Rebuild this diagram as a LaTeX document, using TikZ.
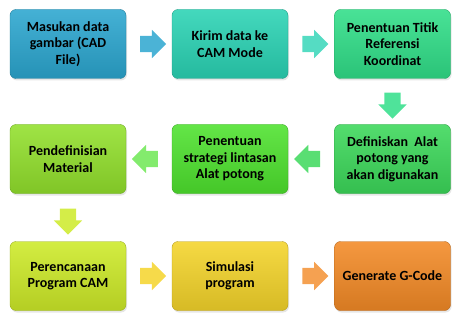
\documentclass[tikz,border=0pt]{standalone}
\usepackage{fontspec}
\setmainfont{Carlito}
\usetikzlibrary{shapes.arrows,shadows,calc}
\definecolor{cBlue}{HTML}{2BA6CF}
\definecolor{cTeal}{HTML}{2AD3B4}
\definecolor{cMint}{HTML}{30DE88}
\definecolor{cGreen}{HTML}{3CD85A}
\definecolor{cLeaf}{HTML}{4EE22E}
\definecolor{cLime}{HTML}{92E02C}
\definecolor{cPear}{HTML}{CDEA28}
\definecolor{cGold}{HTML}{F4D42A}
\definecolor{cOrange}{HTML}{F38A26}
\begin{document}
\begin{tikzpicture}[x=1pt,y=-1pt,
box/.style={rounded corners=6pt,minimum width=116pt,minimum height=69pt,align=center,
  font=\bfseries\fontsize{14}{16.5}\selectfont,draw=#1!75!black,
  top color=#1!88!white,bottom color=#1!88!black,
  drop shadow={opacity=0.2,shadow xshift=1pt,shadow yshift=-2pt}},
arr/.style={single arrow,single arrow head extend=6pt,single arrow tip angle=90,
  inner xsep=0pt,inner ysep=8pt,minimum height=26pt,fill=#1,draw=none}]
\useasboundingbox (0,0) rectangle (461,321);
% row 1
\node[box=cBlue] (b1) at (68,44) {Masukan data\\gambar (CAD\\File)};
\node[box=cTeal] (b2) at (230,44) {Kirim data ke\\CAM Mode};
\node[box=cMint] (b3) at (392.5,44) {Penentuan Titik\\Referensi\\Koordinat};
% row 2
\node[box=cGreen] (b4) at (392.5,159) {Definiskan\ \ Alat\\potong yang\\akan digunakan};
\node[box=cLeaf] (b5) at (230,159) {Penentuan\\strategi lintasan\\Alat potong};
\node[box=cLime] (b6) at (68,159) {Pendefinisian\\Material};
% row 3
\node[box=cPear] (b7) at (68,276) {Perencanaan\\Program CAM};
\node[box=cGold] (b8) at (230,276) {Simulasi\\program};
\node[box=cOrange] (b9) at (392.5,276) {Generate G-Code};
% arrows
\node[arr=cBlue!85!white] (a1) at ($(b1.east)!0.5!(b2.west)$) {};
\node[arr=cTeal!80!white] (a2) at ($(b2.east)!0.5!(b3.west)$) {};
\node[arr=cMint!85!white,rotate=270] (a3) at ($(b3.south)!0.5!(b4.north)$) {};
\node[arr=cGreen!85!white,rotate=180] (a4) at ($(b4.west)!0.5!(b5.east)$) {};
\node[arr=cLeaf!70!white,rotate=180] (a5) at ($(b5.west)!0.5!(b6.east)$) {};
\node[arr=cPear!85!white,rotate=270] (a6) at ($(b6.south)!0.5!(b7.north)$) {};
\node[arr=cGold!85!white] (a7) at ($(b7.east)!0.5!(b8.west)$) {};
\node[arr=cOrange!80!white] (a8) at ($(b8.east)!0.5!(b9.west)$) {};
\end{tikzpicture}
\end{document}
